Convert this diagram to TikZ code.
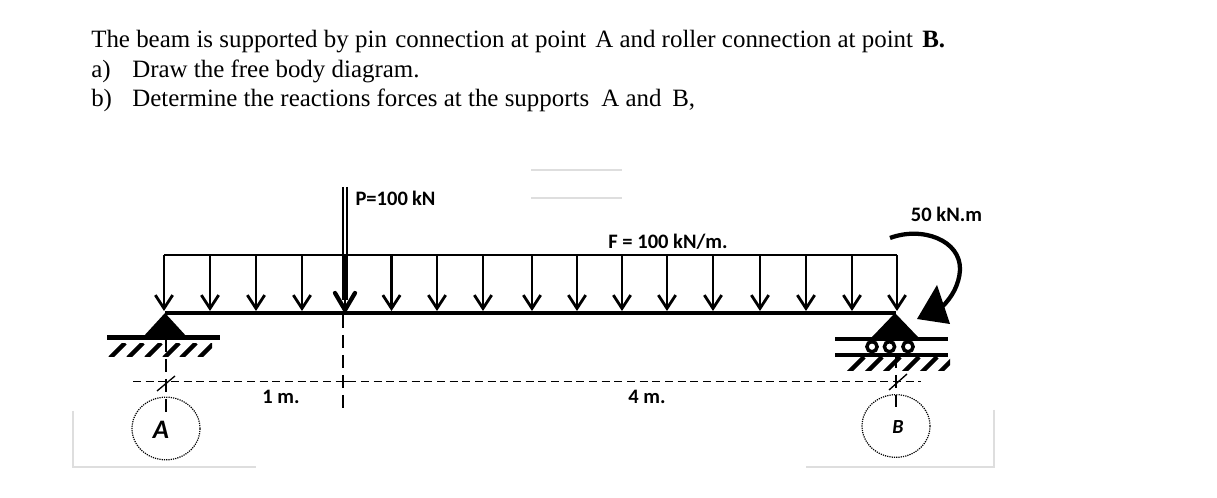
\documentclass[tikz,border=0pt]{standalone}
\usepackage{fontspec}
\setmainfont{Liberation Serif}
\newfontfamily\lab{Carlito}
\usetikzlibrary{arrows.meta,calc,shapes.geometric}
\definecolor{faint}{gray}{0.87}
\tikzset{
 x=0.75pt,y=-0.75pt,
 q/.style={anchor=base west,inner sep=0pt,font=\fontsize{18.7}{22}\selectfont},
 lb/.style={inner sep=0pt,font=\lab\bfseries\fontsize{15.4}{17}\selectfont},
 loadarrow/.style={line width=1.8pt,-{Straight Barb[length=10pt,width=13pt,line width=2.1pt]}},
 topbar/.style={line width=2pt},
 beam/.style={line width=3.3pt},
 gnd/.style={line width=3.6pt},
 hatch/.style={line width=3.2pt},
 dim/.style={line width=0.9pt,dash pattern=on 6pt off 3.5pt},
 axis/.style={line width=1.7pt,dash pattern=on 10pt off 5pt},
 ring/.style={draw,line width=0.9pt,dash pattern=on 0.9pt off 0.8pt,ellipse,minimum width=51pt,minimum height=47pt,inner sep=0pt},
 grey/.style={draw=faint,line width=1.1pt},
}
\begin{document}
\begin{tikzpicture}
\useasboundingbox[fill=white] (0,0) rectangle (1217,498);
% texts
\node[q] (t1a) at (91,48) {The beam is supported by pin};
\node[q] (t1b) at (395,48) {connection at point};
\node[q] (t1c) at (595,48) {A and roller connection at point};
\node[q] (t1d) at (922,48) {\textbf{B.}};
\node[q] (t2a) at (91,78) {a)};
\node[q] (t2b) at (132,78) {Draw the free body diagram.};
\node[q] (t3a) at (91,107) {b)};
\node[q] (t3b) at (132,107) {Determine the reactions forces at the supports};
\node[q] (t3c) at (601,107) {A and};
\node[q] (t3d) at (672,107) {B,};
% faint leftovers
\draw[grey] (531,170) -- (622,170);
\draw[grey] (531,198) -- (622,198);
\draw[grey] (73,411) -- (73,467) -- (256,467);
\draw[grey] (994,410) -- (994,467) -- (806,467);
% hatches
\begin{scope}
\clip (108,344) rectangle (212,356.5);
\foreach \x in {112,130,148,166,183,201}
  \draw[hatch] (\x-2,358) -- (\x+13,343);
\end{scope}
\begin{scope}
\clip (846,358) rectangle (950,371);
\foreach \x in {850,868,886,905,923,941}
  \draw[hatch] (\x-2,373) -- (\x+14,357);
\end{scope}
% axis lines
\coordinate (As) at (165.7,339);
\coordinate (Ae) at (165.7,412);
\coordinate (Pb) at (343,315);
\coordinate (Pe) at (343,408);
\coordinate (Bs) at (896,355);
\coordinate (Be) at (896,407);
\draw[axis] (As) -- (Ae);
\draw[axis] (Pb) -- (Pe);
\draw[axis] (Bs) -- (Be);
% dimension line
\coordinate (d1) at (133,381.5);
\coordinate (d2) at (921,381.5);
\draw[dim] (d1) -- (d2);
\draw[line width=1pt] (157,391) -- (175,376);
\draw[line width=1pt] (889,390) -- (907,374);
\draw[line width=1.3pt] (336,381.5) -- (348,381.5);
% ground lines
\draw[gnd] (107,337.5) -- (220,337.5);
\draw[gnd] (835,339) -- (948,339);
\draw[line width=3pt] (835,355) -- (948,355);
% supports
\fill (165,313) -- (187,337) -- (143,337) -- cycle;
\fill (895,313) -- (918,337) -- (872,337) -- cycle;
\foreach \x in {872,889.5,908}
  \draw[line width=2.6pt,fill=white] (\x,346.7) circle (5.1);
% load
\coordinate (L1) at (164,255);
\coordinate (L2) at (897,255);
\draw[topbar] (L1) -- (L2);
\foreach \x in {164,210,256,302,391.5,437,483,532,577,622,667,713,760,806,852,897}{
  \coordinate (u) at (\x,255); \coordinate (v) at (\x,311);
  \draw[loadarrow] (u) -- (v);
}
% beam
\draw[beam] (165,313) -- (896,313);
% P force
\coordinate (Pa) at (345,187);
\coordinate (Pt) at (345,311);
\draw[line width=0.9pt] (343,187) -- (343,300);
\draw[line width=0.9pt] (347,187) -- (347,300);
\draw[line width=3.2pt,line cap=round,line join=miter] (335,293) -- (345,310) -- (355,293);
\draw[line width=1.6pt] (345,255) -- (345,308);
% moment
\draw[line width=3.2pt] (890,238) .. controls (922,226) and (961,240) .. (960,270) .. controls (959,285) and (952,297) .. (942,307);
\fill (937,285) -- (950,324) -- (917,319) -- cycle;
% labels
\node[lb] (lP) at (395.5,198) {P=100\hspace{0.12em}\hspace{0.08em}kN};
\node[lb] (lF) at (668,242) {F = 100 kN/m.};
\node[lb] (lM) at (946.5,214) {50 kN.m};
\node[lb] (l1) at (281,397) {1 m.};
\node[lb] (l4) at (647,397) {4 m.};
\node[ring] (cA) at (166,428.5) {};
\node[ring] (cB) at (896,426) {};
\node[inner sep=0pt,font=\lab\bfseries\itshape\fontsize{20}{22}\selectfont] (nA) at (161,430) {A};
\node[inner sep=0pt,font=\lab\bfseries\itshape\fontsize{15}{17}\selectfont] (nB) at (898,427) {B};
\end{tikzpicture}
\end{document}
